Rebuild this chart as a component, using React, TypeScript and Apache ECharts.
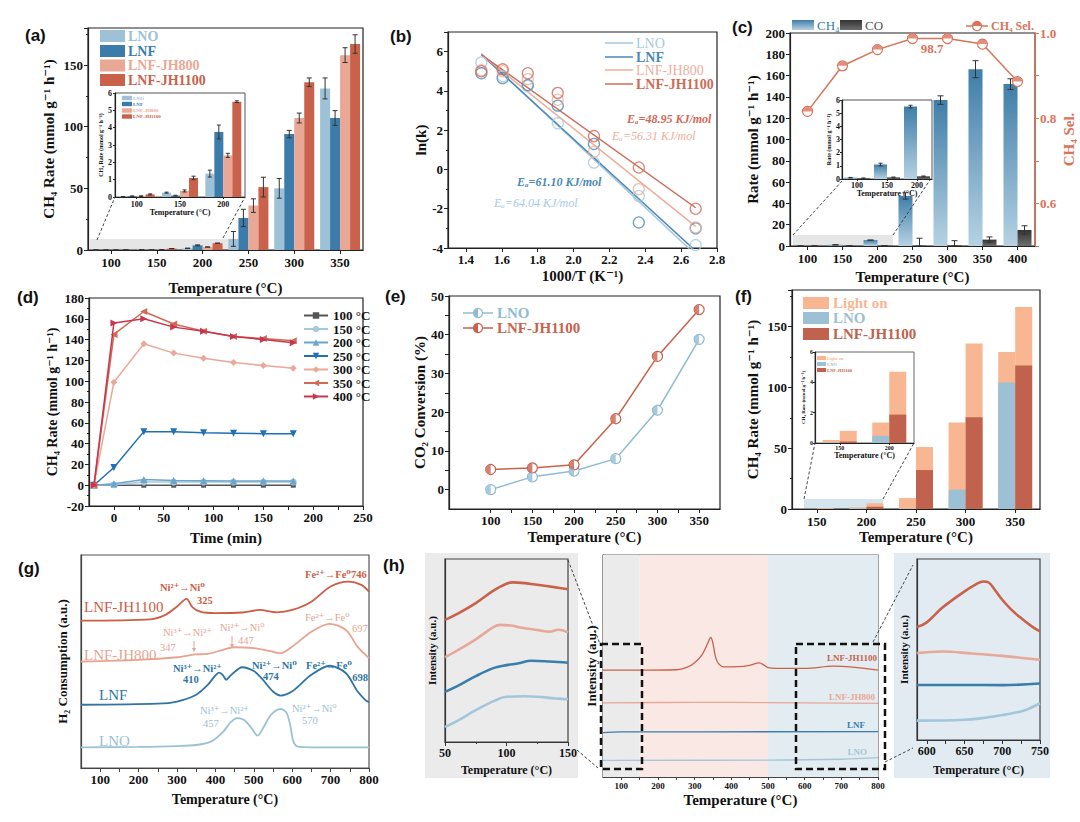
import React, { useEffect, useRef } from 'react';
import * as echarts from 'echarts';

const SERIF = '"Liberation Serif","Times New Roman","DejaVu Serif",serif';
const SANS = '"Liberation Sans",Arial,"DejaVu Sans",sans-serif';

const C_LNO = '#9dc2d8';
const C_LNF = '#3b7cab';
const C_800 = '#e9a795';
const C_1100 = '#c9614b';
const C_OR = '#d9735a';

// (a)
const aCats = ['100', '150', '200', '250', '300', '350'];
const aLNO = [0.02, 0.25, 1.35, 9, 50, 131];
const aLNF = [0.05, 0.08, 3.75, 26, 94, 107];
const aJH800 = [0.05, 0.35, 2.4, 36, 107, 158];
const aJH1100 = [0.15, 1.1, 5.5, 51, 136, 167];
const aLNOErr = [0.01, 0.03, 0.2, 6, 8, 8.5];
const aLNFErr = [0.01, 0.02, 0.4, 7, 3, 6];
const aJH800Err = [0.02, 0.06, 0.12, 5.5, 4, 6];
const aJH1100Err = [0.03, 0.1, 0.05, 8, 3.5, 7.5];

// (b)
const bX = [1.486, 1.605, 1.745, 1.912, 2.114, 2.364, 2.681];
const bLNO = [5.45, 4.75, 4.25, 2.35, 0.35, -1.35, -3.85];
const bLNF = [4.9, 4.65, 4.3, 3.25, 1.3, -2.7, -3.0];
const bJH800 = [5.05, 5.0, 4.6, 3.55, 0.9, -1.0, -2.95];
const bJH1100 = [5.0, 5.1, 4.9, 3.9, 1.7, 0.1, -2.0];
const bFitX = [1.486, 2.681];
const bFitLNO = [5.9, -4.35];
const bFitLNF = [5.85, -4.15];
const bFitJH800 = [5.85, -2.9];
const bFitJH1100 = [5.85, -1.95];
const bXLabels = [1.4, 1.6, 1.8, 2.0, 2.2, 2.4, 2.6, 2.8];

// (c)
const cCats = ['100', '150', '200', '250', '300', '350', '400'];
const cCH4 = [0.1, 1.1, 5.5, 47, 137, 166, 152];
const cCH4Err = [0.02, 0.1, 0.1, 3, 4, 8, 5];
const cCO = [0.05, 0.12, 0.2, 0.3, 0.5, 6, 15];
const cCOErr = [0.02, 0.05, 0.05, 7, 4.5, 2.5, 4];
const cSel = [0.816, 0.923, 0.961, 0.987, 0.987, 0.974, 0.886];
const cSelLabels = [0.6, 0.8, 1.0];
const cSelTicks = [0.5, 0.6, 0.7, 0.8, 0.9, 1.0];

// (d)
const dTime = [-20, 0, 30, 60, 90, 120, 150, 180];
const d100 = [0, 0, 0, 0, 0, 0, 0, 0];
const d150 = [0, 0.5, 3, 3, 3, 3, 3, 3];
const d200 = [0, 1.5, 5.5, 4.5, 4.2, 4, 4, 4];
const d250 = [0, 17, 51.5, 51.5, 50.5, 50, 49.5, 49.5];
const d300 = [0, 99, 136, 127, 122, 118, 115, 112.5];
const d350 = [0, 145, 167, 155, 148, 143, 141, 139];
const d400 = [0, 156, 160, 152, 148, 143, 140, 137];
const dNames = ['100 °C', '150 °C', '200 °C', '250 °C', '300 °C', '350 °C', '400 °C'];
const dXLabels = [0, 50, 100, 150, 200, 250];

// (e)
const eTemp = [100, 150, 200, 250, 300, 350];
const eLNO = [0, 3.3, 4.8, 8, 20.5, 38.8];
const eJH1100 = [5.2, 5.6, 6.4, 18.3, 34.4, 46.5];
const eYLabels = [0, 10, 20, 30, 40, 50];
const eXLabels = [100, 150, 200, 250, 300, 350];

// (f)
const fCats = ['150', '200', '250', '300', '350'];
const fLNODark = [0.05, 0.47, 0.3, 15.9, 104];
const fLNOLight = [0.2, 1.35, 9, 71, 129];
const fJHDark = [0.1, 1.87, 32, 75.5, 118];
const fJHLight = [0.8, 4.7, 51, 136, 166];

// (g) H2-TPR [T, signal]
const gLNO = [[50, 9.7], [200, 9.9], [300, 10.3], [350, 10.8], [390, 12.5], [420, 17], [440, 21.5], [457, 23.4], [475, 22.5], [495, 18.5], [510, 15.2], [525, 19], [545, 25], [570, 27.7], [585, 26], [595, 20], [603, 12.5], [615, 10], [650, 9.7], [800, 9.7]];
const gLNF = [[50, 29.7], [250, 30.2], [300, 31.2], [350, 34.4], [380, 39], [400, 43.5], [410, 44.8], [420, 43.5], [428, 41.4], [440, 43.5], [470, 47.3], [500, 45.5], [520, 42.2], [550, 35.9], [570, 34], [600, 36], [650, 43.75], [698, 48], [740, 44.5], [770, 36], [790, 32], [800, 30.9]];
const gJH800 = [[50, 50], [200, 50.8], [300, 52], [347, 53.3], [380, 53.6], [420, 55.5], [447, 56.7], [500, 56.3], [540, 55], [570, 53.9], [600, 57], [650, 64], [697, 67.7], [740, 64.8], [770, 57], [800, 51.6]];
const gJH1100 = [[50, 69.2], [230, 69.8], [270, 71.9], [300, 75.8], [325, 79.4], [340, 75.5], [360, 73.4], [400, 72.7], [470, 73], [515, 74.2], [560, 73.1], [600, 74.2], [650, 78.1], [700, 85.2], [746, 87.5], [780, 86], [800, 82.8]];
const gXLabels = [100, 200, 300, 400, 500, 600, 700, 800];

// (h)
const hL1100 = [[50, 66.7], [60, 70], [75, 75.9], [90, 83], [100, 86.5], [105, 87.2], [115, 86.8], [125, 85.9], [140, 84.5], [150, 83.5]];
const hL800 = [[50, 46.3], [60, 50], [75, 56.1], [90, 63], [95, 64], [105, 63.5], [110, 62.7], [125, 61.2], [135, 60.3], [142, 61.3], [150, 60]];
const hLLNF = [[50, 27.4], [60, 30.5], [75, 36], [90, 40.5], [100, 42], [110, 43], [120, 44.4], [135, 44], [150, 43.3]];
const hLLNO = [[50, 8.2], [60, 11.5], [75, 17.4], [90, 22.5], [100, 24.7], [115, 25], [125, 24.7], [140, 23.8], [150, 23.4]];
const hM1100 = [[50, 48.1], [150, 48.1], [250, 48.3], [280, 49.5], [300, 51.5], [320, 55], [335, 60], [344, 62.9], [350, 60], [357, 54], [365, 51.1], [380, 49.6], [420, 49.7], [450, 50.3], [476, 51.4], [490, 50.3], [500, 49.3], [550, 48.9], [600, 48.9], [680, 49.9], [800, 48.1]];
const hM800 = [[50, 33.4], [300, 33.6], [500, 33.5], [800, 33.2]];
const hMLNF = [[50, 20.0], [100, 20.3], [800, 20.4]];
const hMLNO = [[50, 7.5], [500, 7.6], [700, 8.0], [800, 8.7]];
const hR1100 = [[587, 62.4], [600, 65], [620, 72.9], [650, 82.1], [665, 86], [675, 87.6], [682, 87], [690, 83], [700, 77.5], [712, 72], [725, 67.3], [740, 62.5], [750, 60]];
const hR800 = [[587, 48], [620, 48.9], [660, 47.8], [700, 46.5], [750, 44.3]];
const hRLNF = [[587, 30.4], [650, 30.4], [700, 30.3], [750, 31.2]];
const hRLNO = [[587, 10.7], [650, 11.2], [700, 13.8], [730, 16.5], [750, 20.3]];
const hXLabels = [100, 200, 300, 400, 500, 600, 700, 800];
const hRLabels = [600, 650, 700, 750];

const SUB4 = '\u2084';
const SUP_M1 = '\u207B\u00B9';
const RATE = 'CH' + SUB4 + ' Rate (mmol g' + SUP_M1 + ' h' + SUP_M1 + ')';
const TEMP = 'Temperature (\u00B0C)';
const NI21 = 'Ni\u00B2\u207A\u2192Ni\u2070';
const NI32 = 'Ni\u00B3\u207A\u2192Ni\u00B2\u207A';
const FE20 = 'Fe\u00B2\u207A\u2192Fe\u2070';

const LEFT_HALF = 'path://M0,-1A1,1 0 0,0 0,1Z';
const TOP_HALF = 'path://M-1,0A1,1 0 0,1 1,0Z';

function G(left: number, top: number, width: number, height: number, o: any = {}) {
  return { left, top, width, height, show: true, borderColor: o.bc || '#222', borderWidth: o.bw ?? 1.2, backgroundColor: o.bg || 'transparent', containLabel: false, outerBoundsMode: 'none' };
}

function vAxis(gi: number, min: number, max: number, o: any = {}) {
  return {
    type: 'value', gridIndex: gi, min, max, interval: o.interval, position: o.position, show: o.show !== false,
    name: o.name, nameLocation: 'middle', nameGap: o.gap, nameRotate: o.rotate,
    nameTextStyle: { fontFamily: SERIF, fontWeight: 'bold', fontSize: o.ns || 15, color: o.nc || '#111' },
    axisLine: { show: true, onZero: false, lineStyle: { color: o.lc || '#222', width: o.lw || 1.2 } },
    axisTick: { show: o.tick !== false, length: o.tl || 4, lineStyle: { color: o.lc || '#222' }, customValues: o.ticks },
    minorTick: { show: !!o.minor, splitNumber: o.minor || 2, length: 2, lineStyle: { color: o.lc || '#222' } },
    axisLabel: { show: o.label !== false, customValues: o.labels, showMaxLabel: o.hideMax ? false : undefined, formatter: o.fmt, fontFamily: SERIF, fontWeight: 'bold', fontSize: o.fs || 13, color: o.lcol || '#111', margin: o.margin || 5 },
    splitLine: { show: false },
  };
}

function cAxis(gi: number, data: string[], o: any = {}) {
  return {
    type: 'category', gridIndex: gi, data, show: o.show !== false, boundaryGap: true,
    name: o.name, nameLocation: 'middle', nameGap: o.gap,
    nameTextStyle: { fontFamily: SERIF, fontWeight: 'bold', fontSize: o.ns || 15, color: '#111' },
    axisLine: { show: true, lineStyle: { color: '#222', width: 1.2 } },
    axisTick: { show: true, alignWithLabel: true, length: o.tl || 4, lineStyle: { color: '#222' } },
    axisLabel: { fontFamily: SERIF, fontWeight: 'bold', fontSize: o.fs || 13, color: '#111', margin: o.margin || 6, interval: 0 },
    splitLine: { show: false },
  };
}

function bar(name: string, xi: number, yi: number, data: number[], color: any, width: number, z = 2) {
  return { type: 'bar', name, xAxisIndex: xi, yAxisIndex: yi, data, barWidth: width, barGap: '0%', itemStyle: { color }, z, silent: true };
}

function errBars(xi: number, yi: number, vals: number[], errs: number[], offset: number, cap = 2.5, color = '#333') {
  return {
    type: 'custom', xAxisIndex: xi, yAxisIndex: yi, z: 6, silent: true,
    data: vals.map((v, i) => [i, v, errs[i]]),
    renderItem: (_p: any, api: any) => {
      const i = api.value(0), v = api.value(1), e = api.value(2);
      const top = api.coord([i, v + e]);
      const bot = api.coord([i, Math.max(0, v - e)]);
      const x = top[0] + offset;
      const st = { stroke: color, lineWidth: 1 };
      return {
        type: 'group', children: [
          { type: 'line', shape: { x1: x, y1: top[1], x2: x, y2: bot[1] }, style: st },
          { type: 'line', shape: { x1: x - cap, y1: top[1], x2: x + cap, y2: top[1] }, style: st },
          { type: 'line', shape: { x1: x - cap, y1: bot[1], x2: x + cap, y2: bot[1] }, style: st },
        ],
      };
    },
  };
}

function curve(name: string, xi: number, yi: number, data: number[][], color: string, width = 1.5, smooth: any = 0.4) {
  return { type: 'line', name, xAxisIndex: xi, yAxisIndex: yi, data, showSymbol: false, symbol: 'none', smooth, lineStyle: { color, width }, z: 3, silent: true };
}

function T(x: number, y: number, text: string, o: any = {}) {
  return {
    type: 'text', x, y, z: 100, silent: true, rotation: o.rot || 0,
    style: { text, fill: o.c || '#111', fontSize: o.s || 13, fontWeight: o.w || 'normal', fontStyle: o.i ? 'italic' : 'normal', fontFamily: o.f || SERIF, textAlign: o.a || 'left', textVerticalAlign: 'middle' },
  };
}
function L(x1: number, y1: number, x2: number, y2: number, o: any = {}) {
  return { type: 'line', z: o.z ?? 100, silent: true, shape: { x1, y1, x2, y2 }, style: { stroke: o.c || '#444', lineWidth: o.w || 1, lineDash: o.d || null } };
}
function R(x: number, y: number, w: number, h: number, fill: any, o: any = {}) {
  return { type: 'rect', z: o.z ?? 100, silent: true, shape: { x, y, width: w, height: h }, style: { fill, stroke: o.stroke || null, lineWidth: o.lw || 0, lineDash: o.d || null } };
}
function halfMarker(cx: number, cy: number, color: string, mode: 'left' | 'top') {
  const r = 4.5;
  const sa = mode === 'left' ? Math.PI / 2 : Math.PI;
  return [
    { type: 'circle', z: 101, silent: true, shape: { cx, cy, r }, style: { fill: '#fff', stroke: color, lineWidth: 1.2 } },
    { type: 'sector', z: 102, silent: true, shape: { cx, cy, r, r0: 0, startAngle: sa, endAngle: sa + Math.PI }, style: { fill: color } },
  ];
}
function arrowDown(x: number, y1: number, y2: number, color: string) {
  return [
    L(x, y1, x, y2 - 3, { c: color, w: 1 }),
    { type: 'polygon', z: 100, silent: true, shape: { points: [[x - 2, y2 - 4], [x + 2, y2 - 4], [x, y2]] }, style: { fill: color } },
  ];
}

const blueGrad = () => new echarts.graphic.LinearGradient(0, 0, 0, 1, [{ offset: 0, color: '#3f7ea8' }, { offset: 1, color: '#b6d2e3' }]);
const grayGrad = () => new echarts.graphic.LinearGradient(0, 0, 0, 1, [{ offset: 0, color: '#333333' }, { offset: 1, color: '#6d6d6d' }]);

function buildOption() {
  const grids = [
    G(88, 28, 275, 222), // 0 a
    G(115, 93, 130, 104, { bw: 1, bc: '#555' }), // 1 a inset
    G(448, 32, 269, 216), // 2 b
    G(790, 33, 245, 213), // 3 c
    G(842, 100, 90, 79, { bw: 1, bc: '#555' }), // 4 c inset
    G(89, 298, 274, 208), // 5 d
    G(449, 296, 271, 213), // 6 e
    G(792, 290, 248, 219), // 7 f
    G(815, 352, 99, 91, { bw: 1, bc: '#666' }), // 8 f inset
    G(81, 555, 288, 213, { bc: '#555' }), // 9 g
    G(445, 559, 123, 183, { bc: '#444' }), // 10 h left
    G(603, 555, 275, 222, { bc: '#666' }), // 11 h mid
    G(917, 559, 123, 181, { bc: '#444' }), // 12 h right
  ];

  const xAxis = [
    cAxis(0, aCats, { name: TEMP, gap: 30 }), // 0
    cAxis(1, aCats.slice(0, 3), { name: TEMP, gap: 11, ns: 8, fs: 8, margin: 3, tl: 2 }), // 1
    vAxis(2, 1.3, 2.8, { name: '1000/T (K' + SUP_M1 + ')', gap: 20, labels: bXLabels, ticks: bXLabels, fmt: (v: number) => v.toFixed(1) }), // 2
    cAxis(3, cCats, { name: TEMP, gap: 23 }), // 3
    cAxis(4, cCats.slice(0, 3), { name: TEMP, gap: 9, ns: 8, fs: 8, margin: 2, tl: 2 }), // 4
    vAxis(5, -25, 250, { name: 'Time (min)', gap: 24, labels: dXLabels, ticks: [0, 25, 50, 75, 100, 125, 150, 175, 200, 225, 250] }), // 5
    vAxis(6, 50, 375, { name: TEMP, gap: 20, labels: eXLabels, ticks: [100, 125, 150, 175, 200, 225, 250, 275, 300, 325, 350] }), // 6
    cAxis(7, fCats, { name: TEMP, gap: 20 }), // 7
    { ...cAxis(7, fCats), show: false }, // 8
    cAxis(8, fCats.slice(0, 2), { name: TEMP, gap: 8, ns: 8, fs: 6, margin: 2, tl: 2 }), // 9
    { ...cAxis(8, fCats.slice(0, 2)), show: false }, // 10
    vAxis(9, 50, 800, { name: TEMP, gap: 24, ns: 14, labels: gXLabels, ticks: [100, 150, 200, 250, 300, 350, 400, 450, 500, 550, 600, 650, 700, 750, 800], lc: '#444' }), // 11
    vAxis(10, 50, 150, { name: TEMP, gap: 22, ns: 12, fs: 12, interval: 50, minor: 2, lc: '#333' }), // 12
    vAxis(11, 50, 800, { name: TEMP, gap: 15, ns: 15, fs: 9, margin: 4, labels: hXLabels, ticks: [100, 150, 200, 250, 300, 350, 400, 450, 500, 550, 600, 650, 700, 750, 800], tl: 3, lc: '#444' }), // 13
    vAxis(12, 587, 750, { name: TEMP, gap: 24, ns: 12, fs: 12, labels: hRLabels, ticks: [600, 625, 650, 675, 700, 725, 750], lc: '#333' }), // 14
  ];

  const yAxis = [
    vAxis(0, 0, 180, { name: RATE, gap: 32, interval: 50, minor: 2, hideMax: true }), // 0
    vAxis(1, 0, 6, { name: RATE, gap: 10, ns: 6, fs: 8, interval: 1, margin: 3, tl: 2 }), // 1
    vAxis(2, -4, 7, { name: 'ln(k)', gap: 18, interval: 2, minor: 2, hideMax: true }), // 2
    vAxis(3, 0, 200, { name: 'Rate (mmol g' + SUP_M1 + ' h' + SUP_M1 + ')', gap: 30, interval: 20 }), // 3
    vAxis(3, 0.5, 1.0, { position: 'right', name: 'CH' + SUB4 + ' Sel.', gap: 26, rotate: 90, nc: C_OR, lc: C_OR, lw: 1.5, lcol: C_OR, labels: cSelLabels, ticks: cSelTicks, fmt: (v: number) => v.toFixed(1) }), // 4
    vAxis(4, 0, 6, { name: 'Rate (mmol g' + SUP_M1 + ' h' + SUP_M1 + ')', gap: 6, ns: 6, fs: 8, interval: 1, margin: 2, tl: 2 }), // 5
    vAxis(5, -20, 180, { name: RATE, gap: 30, ns: 14, interval: 20, minor: 2 }), // 6
    vAxis(6, -5, 50, { name: 'CO\u2082 Conversion (%)', gap: 22, labels: eYLabels, ticks: [0, 5, 10, 15, 20, 25, 30, 35, 40, 45, 50] }), // 7
    vAxis(7, 0, 180, { name: RATE, gap: 32, interval: 50, minor: 2, hideMax: true }), // 8
    vAxis(8, 0, 6, { name: RATE, gap: 8, ns: 5, fs: 6, interval: 2, margin: 2, tl: 2 }), // 9
    vAxis(9, 0, 100, { name: 'H\u2082 Consumption (a.u.)', gap: 12, ns: 13, label: false, tick: false, lc: '#444' }), // 10
    vAxis(10, 0, 100, { name: 'Intensity (a.u.)', gap: 8, ns: 11, label: false, tick: false, lc: '#333' }), // 11
    vAxis(11, 0, 100, { name: 'Intensity (a.u.)', gap: 5, ns: 13, label: false, tick: false, lc: '#444' }), // 12
    vAxis(12, 0, 100, { name: 'Intensity (a.u.)', gap: 8, ns: 11, label: false, tick: false, lc: '#333' }), // 13
  ];

  const series: any[] = [];
  // (a) main
  series.push(bar('LNO', 0, 0, aLNO, C_LNO, 10), bar('LNF', 0, 0, aLNF, C_LNF, 10), bar('LNF-JH800', 0, 0, aJH800, C_800, 10), bar('LNF-JH1100', 0, 0, aJH1100, C_1100, 10));
  series.push(errBars(0, 0, aLNO, aLNOErr, -15), errBars(0, 0, aLNF, aLNFErr, -5), errBars(0, 0, aJH800, aJH800Err, 5), errBars(0, 0, aJH1100, aJH1100Err, 15));
  // (a) inset
  const s3 = (a: number[]) => a.slice(0, 3);
  series.push(bar('LNO', 1, 1, s3(aLNO), C_LNO, 9), bar('LNF', 1, 1, s3(aLNF), C_LNF, 9), bar('LNF-JH800', 1, 1, s3(aJH800), C_800, 9), bar('LNF-JH1100', 1, 1, s3(aJH1100), C_1100, 9));
  series.push(errBars(1, 1, s3(aLNO), s3(aLNOErr), -13.5, 2), errBars(1, 1, s3(aLNF), s3(aLNFErr), -4.5, 2), errBars(1, 1, s3(aJH800), s3(aJH800Err), 4.5, 2), errBars(1, 1, s3(aJH1100), s3(aJH1100Err), 13.5, 2));

  // (b)
  const bCol = ['#a5c9df', '#4a89b6', '#eeae9c', '#cf6a55'];
  const bPts = [bLNO, bLNF, bJH800, bJH1100];
  const bFits = [bFitLNO, bFitLNF, bFitJH800, bFitJH1100];
  const bNames = ['LNO', 'LNF', 'LNF-JH800', 'LNF-JH1100'];
  bPts.forEach((arr, k) => {
    series.push({ type: 'line', name: bNames[k] + ' fit', xAxisIndex: 2, yAxisIndex: 2, data: bFitX.map((x, i) => [x, bFits[k][i]]), showSymbol: false, symbol: 'none', lineStyle: { color: bCol[k], width: 1.5 }, z: 3, silent: true });
    series.push({ type: 'scatter', name: bNames[k], xAxisIndex: 2, yAxisIndex: 2, data: bX.map((x, i) => [x, arr[i]]), symbol: 'circle', symbolSize: 11, itemStyle: { color: 'transparent', borderColor: bCol[k], borderWidth: 1.3 }, z: 4, silent: true });
  });

  // (c)
  series.push(bar('CH4', 3, 3, cCH4, blueGrad(), 14), bar('CO', 3, 3, cCO, grayGrad(), 14));
  series.push(errBars(3, 3, cCH4, cCH4Err, -7, 3), errBars(3, 3, cCO, cCOErr, 7, 3));
  series.push({ type: 'line', name: 'CH4 Sel.', xAxisIndex: 3, yAxisIndex: 4, data: cSel, symbol: 'circle', symbolSize: 10, itemStyle: { color: '#fff', borderColor: C_OR, borderWidth: 1.2 }, lineStyle: { color: C_OR, width: 1.5 }, z: 10, silent: true });
  series.push({ type: 'scatter', name: 'CH4 Sel. half', xAxisIndex: 3, yAxisIndex: 4, data: cSel, symbol: TOP_HALF, symbolSize: [9, 4.5], symbolOffset: [0, -2.25], itemStyle: { color: C_OR }, z: 11, silent: true });
  series.push(bar('CH4', 4, 5, cCH4.slice(0, 3), blueGrad(), 13), bar('CO', 4, 5, cCO.slice(0, 3), grayGrad(), 13));
  series.push(errBars(4, 5, cCH4.slice(0, 3), cCH4Err.slice(0, 3), -6.5, 2), errBars(4, 5, cCO.slice(0, 3), cCOErr.slice(0, 3).map(() => 0.03), 6.5, 2));

  // (d)
  const dVals = [d100, d150, d200, d250, d300, d350, d400];
  const dCols = ['#555555', '#a6c8dd', '#6aa6cc', '#1f70b5', '#eaa898', '#d06a52', '#c8364e'];
  const dSym = ['rect', 'circle', 'triangle', 'triangle', 'diamond', 'triangle', 'triangle'];
  const dRot = [0, 0, 0, 180, 0, 90, -90];
  dVals.forEach((arr, k) => {
    series.push({ type: 'line', name: dNames[k], xAxisIndex: 5, yAxisIndex: 6, data: dTime.map((t, i) => [t, arr[i]]), symbol: dSym[k], symbolRotate: dRot[k], symbolSize: k === 0 ? 5 : 7, itemStyle: { color: dCols[k] }, lineStyle: { color: dCols[k], width: 1.5 }, z: 3 + k });
  });

  // (e)
  const eCols = ['#8fbcd4', C_1100];
  [eLNO, eJH1100].forEach((arr, k) => {
    const data = eTemp.map((t, i) => [t, arr[i]]);
    series.push({ type: 'line', name: k ? 'LNF-JH1100' : 'LNO', xAxisIndex: 6, yAxisIndex: 7, data, symbol: 'circle', symbolSize: 10, itemStyle: { color: '#fff', borderColor: eCols[k], borderWidth: 1.2 }, lineStyle: { color: eCols[k], width: 1.5 }, z: 5, silent: true });
    series.push({ type: 'scatter', name: 'half', xAxisIndex: 6, yAxisIndex: 7, data, symbol: LEFT_HALF, symbolSize: [4.5, 9], symbolOffset: [-2.25, 0], itemStyle: { color: eCols[k] }, z: 6, silent: true });
  });

  // (f)
  const F_LIGHT = '#f9b692', F_LNO = '#9cc0d4', F_JH = '#c0624d';
  series.push(bar('Light on', 7, 8, fLNOLight, F_LIGHT, 17), bar('Light on', 7, 8, fJHLight, F_LIGHT, 17));
  series.push(bar('LNO', 8, 8, fLNODark, F_LNO, 17, 3), bar('LNF-JH1100', 8, 8, fJHDark, F_JH, 17, 3));
  const s2 = (a: number[]) => a.slice(0, 2);
  series.push(bar('Light on', 9, 9, s2(fLNOLight), F_LIGHT, 17), bar('Light on', 9, 9, s2(fJHLight), F_LIGHT, 17));
  series.push(bar('LNO', 10, 9, s2(fLNODark), F_LNO, 17, 3), bar('LNF-JH1100', 10, 9, s2(fJHDark), F_JH, 17, 3));

  // (g)
  const G_LNO = '#9cc0d6', G_LNF = '#2f75a4', G_800 = '#e6a491', G_1100 = '#cd5c45';
  series.push(curve('LNO', 11, 10, gLNO, G_LNO, 1.8, 0.3), curve('LNF', 11, 10, gLNF, G_LNF, 1.8, 0.3), curve('LNF-JH800', 11, 10, gJH800, G_800, 1.8, 0.3), curve('LNF-JH1100', 11, 10, gJH1100, G_1100, 1.8, 0.3));

  // (h)
  const H_LNO = '#a3c6da', H_LNF = '#3b7dab', H_800 = '#e6a898', H_1100 = '#c9614b';
  series.push(curve('LNO', 12, 11, hLLNO, H_LNO, 2.6), curve('LNF', 12, 11, hLLNF, H_LNF, 2.6), curve('LNF-JH800', 12, 11, hL800, H_800, 2.6), curve('LNF-JH1100', 12, 11, hL1100, H_1100, 2.6));
  const mLNO: any = curve('LNO', 13, 12, hMLNO, H_LNO, 1.3);
  mLNO.markArea = {
    silent: true,
    data: [
      [{ xAxis: 50, itemStyle: { color: '#ebebeb' } }, { xAxis: 150 }],
      [{ xAxis: 150, itemStyle: { color: '#f9e8e4' } }, { xAxis: 500 }],
      [{ xAxis: 500, itemStyle: { color: '#e3ecf1' } }, { xAxis: 800 }],
    ],
  };
  series.push(mLNO, curve('LNF', 13, 12, hMLNF, H_LNF, 1.3), curve('LNF-JH800', 13, 12, hM800, H_800, 1.3), curve('LNF-JH1100', 13, 12, hM1100, H_1100, 1.3, 0.35));
  series.push(curve('LNO', 14, 13, hRLNO, H_LNO, 2.6), curve('LNF', 14, 13, hRLNF, H_LNF, 2.6), curve('LNF-JH800', 14, 13, hR800, H_800, 2.6), curve('LNF-JH1100', 14, 13, hR1100, H_1100, 2.6));

  // graphics
  const g: any[] = [];
  const P = { s: 17, w: 'bold', f: SANS };
  g.push(T(25, 35, '(a)', P), T(390, 36, '(b)', P), T(732, 27, '(c)', P), T(17, 297, '(d)', P), T(385, 296, '(e)', P), T(735, 296, '(f)', P), T(18, 568, '(g)', P), T(383, 565, '(h)', P));

  // (a) legend + inset legend + zoom marks
  const aL = [['LNO', C_LNO, 36], ['LNF', C_LNF, 51], ['LNF-JH800', C_800, 65.5], ['LNF-JH1100', C_1100, 80]] as any[];
  aL.forEach(([n, c, y]) => { g.push(R(100, y - 6, 25, 12, c), T(128, y, n, { c, s: 14, w: 'bold' })); });
  const aIL = [['LNO', C_LNO, 98], ['LNF', C_LNF, 104], ['LNF-JH800', C_800, 110.5], ['LNF-JH1100', C_1100, 116.5]] as any[];
  aIL.forEach(([n, c, y]) => { g.push(R(122, y - 2.2, 10, 4.4, c), T(133, y, n, { c, s: 5, w: 'bold' })); });
  g.push(R(90, 239, 140, 11, '#e6e6e6', { z: -10 }), L(97, 240, 115, 197, { d: [3, 2] }), L(223, 238, 245, 197, { d: [3, 2] }));

  // (b) legend + annotations
  const bL = [['LNO', bCol[0], 43, 'normal'], ['LNF', bCol[1], 57, 'bold'], ['LNF-JH800', bCol[2], 70, 'normal'], ['LNF-JH1100', bCol[3], 84, 'bold']] as any[];
  bL.forEach(([n, c, y, w]) => { g.push(L(605, y, 633, y, { c, w: 1.5 }), T(636, y, n, { c, s: 14, w })); });
  g.push(T(627, 119, 'E\u2090=48.95 KJ/mol', { c: bCol[3], s: 12, w: 'bold', i: true }));
  g.push(T(612, 136, 'E\u2090=56.31 KJ/mol', { c: bCol[2], s: 12, i: true }));
  g.push(T(517, 182, 'E\u2090=61.10 KJ/mol', { c: bCol[1], s: 12, w: 'bold', i: true }));
  g.push(T(494, 203, 'E\u2090=64.04 KJ/mol', { c: bCol[0], s: 12, i: true }));

  // (c) legend + annotations
  g.push(R(792, 20, 22, 10, blueGrad()), T(817, 25, 'CH' + SUB4, { c: C_LNF, s: 13 }));
  g.push(R(840, 20, 22, 10, grayGrad()), T(865, 25, 'CO', { c: '#555', s: 13 }));
  g.push(L(966, 26, 988, 26, { c: C_OR, w: 1.5 }), ...halfMarker(977, 26, C_OR, 'top'), T(991, 26, 'CH' + SUB4 + ' Sel.', { c: C_OR, s: 12, w: 'bold' }));
  g.push(T(932, 48, '98.7', { c: C_OR, s: 13, w: 'bold', a: 'center' }));
  g.push(R(793, 235, 100, 11, '#e6e6e6', { z: -10 }), L(793, 235, 843, 180, { d: [3, 2] }), L(893, 235, 930, 180, { d: [3, 2] }));

  // (e) legend
  [['LNO', eCols[0], 313], ['LNF-JH1100', eCols[1], 328]].forEach(([n, c, y]: any) => {
    g.push(L(463, y, 493, y, { c, w: 1.5 }), ...halfMarker(478, y, c, 'left'), T(497, y, n, { c, s: 15, w: 'bold' }));
  });

  // (f) legend + inset legend + zoom
  [['Light on', F_LIGHT, 303], ['LNO', F_LNO, 318], ['LNF-JH1100', F_JH, 334]].forEach(([n, c, y]: any) => {
    g.push(R(803, y - 6, 26, 12, c), T(833, y, n, { c, s: 15, w: 'bold' }));
  });
  [['Light on', F_LIGHT, 358], ['LNO', F_LNO, 364], ['LNF-JH1100', F_JH, 370]].forEach(([n, c, y]: any) => {
    g.push(R(817, y - 2, 9, 4, c), T(827, y, n, { c, s: 4.5, w: 'bold' }));
  });
  g.push(R(804, 499, 79, 10, '#d5e5ee', { z: -10 }), L(804, 499, 815, 443, { d: [3, 2] }), L(883, 499, 914, 443, { d: [3, 2] }));

  // (g) annotations
  const A = 10.5;
  g.push(T(84, 607, 'LNF-JH1100', { c: G_1100, s: 15 }));
  g.push(T(160, 587, NI21, { c: G_1100, s: A, w: 'bold' }), T(197, 600, '325', { c: G_1100, s: A, w: 'bold' }));
  g.push(T(305, 574, FE20 + '746', { c: G_1100, s: A, w: 'bold' }));
  g.push(T(84, 655, 'LNF-JH800', { c: G_800, s: 15 }));
  g.push(T(163, 632, NI32, { c: G_800, s: A }), T(160, 647, '347', { c: G_800, s: A }), ...arrowDown(194, 641, 652, G_800));
  g.push(T(220, 627, NI21, { c: G_800, s: A }), T(238, 640, '447', { c: G_800, s: A }), ...arrowDown(232, 636, 648, G_800));
  g.push(T(305, 617, FE20, { c: G_800, s: A }), T(352, 628, '697', { c: G_800, s: A }));
  g.push(T(99, 695, 'LNF', { c: G_LNF, s: 15 }));
  g.push(T(173, 668, NI32, { c: G_LNF, s: A, w: 'bold' }), T(183, 679, '410', { c: G_LNF, s: A, w: 'bold' }));
  g.push(T(252, 665, NI21, { c: G_LNF, s: A, w: 'bold' }), T(263, 676, '474', { c: G_LNF, s: A, w: 'bold' }));
  g.push(T(306, 665, FE20, { c: G_LNF, s: A, w: 'bold' }), T(368, 677, '698', { c: G_LNF, s: A, w: 'bold', a: 'right' }));
  g.push(T(99, 741, 'LNO', { c: G_LNO, s: 15 }));
  g.push(T(200, 710, NI32, { c: G_LNO, s: A }), T(203, 723, '457', { c: G_LNO, s: A }));
  g.push(T(292, 708, NI21, { c: G_LNO, s: A }), T(302, 720, '570', { c: G_LNO, s: A }));

  // (h) backgrounds, labels, zoom boxes
  g.push(R(425, 553, 153, 225, '#ebebeb', { z: -10 }), R(894, 553, 156, 225, '#e2ebf1', { z: -10 }));
  g.push(T(877, 658, 'LNF-JH1100', { c: H_1100, s: 9, w: 'bold', a: 'right' }));
  g.push(T(875, 697, 'LNF-JH800', { c: H_800, s: 9, w: 'bold', a: 'right' }));
  g.push(T(865, 725, 'LNF', { c: H_LNF, s: 9, w: 'bold', a: 'right' }));
  g.push(T(867, 752, 'LNO', { c: H_LNO, s: 9, w: 'bold', a: 'right' }));
  g.push(R(601, 644, 41, 125, 'none', { stroke: '#111', lw: 2.5, d: [7, 4] }));
  g.push(R(796, 644, 89, 125, 'none', { stroke: '#111', lw: 2.5, d: [7, 4] }));
  g.push(L(568, 560, 600, 644, { d: [3, 2] }), L(577, 750, 598, 768, { d: [3, 2] }));
  g.push(L(873, 642, 913, 565, { d: [3, 2] }), L(885, 762, 913, 748, { d: [3, 2] }));

  return {
    animation: false,
    backgroundColor: '#ffffff',
    grid: grids,
    xAxis,
    yAxis,
    series,
    legend: [{
      data: dNames, orient: 'vertical', left: 298, top: 304, itemWidth: 24, itemHeight: 8, itemGap: 0.5, selectedMode: false,
      textStyle: { fontFamily: SERIF, fontWeight: 'bold', fontSize: 13, color: '#111' },
    }],
    graphic: { elements: g },
  };
}

export default function App() {
  const ref = useRef<HTMLDivElement>(null);
  useEffect(() => {
    if (!ref.current) return;
    const chart = echarts.init(ref.current, null, { renderer: 'svg' });
    chart.setOption(buildOption() as any);
    return () => chart.dispose();
  }, []);
  return <div ref={ref} style={{ position: 'absolute', left: 0, top: 0, width: 1080, height: 822, background: '#fff' }} />;
}
